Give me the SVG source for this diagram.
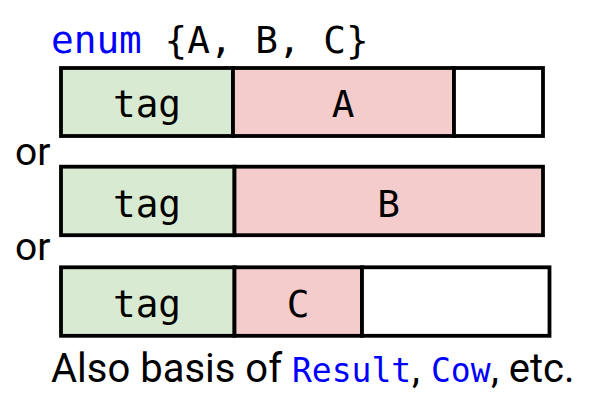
<svg xmlns="http://www.w3.org/2000/svg" width="610" height="408" viewBox="0 0 610 408">
  <style>
    .mono { font-family: "DejaVu Sans Mono", "Liberation Mono", monospace; font-size: 37.7px; fill: #000; }
    .sans { font-family: Roboto, "Liberation Sans", sans-serif; font-size: 39px; fill: #000; }
    .foot { font-size: 40px; }
    .code { font-family: "DejaVu Sans Mono", "Liberation Mono", monospace; font-size: 33px; }
    .kw { fill: #0000ff; }
    .cell { stroke: #000; stroke-width: 3.8; }
    .tag { fill: #d9ead3; }
    .pay { fill: #f4cccc; }
    .pad { fill: #ffffff; }
    .lbl { text-anchor: middle; }
  </style>
  <rect width="610" height="408" fill="#ffffff"/>

  <g id="header">
    <text class="mono" x="51" y="53"><tspan class="kw">enum</tspan> {A, B, C}</text>
  </g>

  <g id="variantA">
    <rect class="cell tag" x="61" y="68" width="172" height="68"/>
    <rect class="cell pay" x="233" y="68" width="221" height="68"/>
    <rect class="cell pad" x="454" y="68" width="89" height="68"/>
    <text class="mono lbl" x="147" y="116.5">tag</text>
    <text class="mono lbl" x="343" y="117">A</text>
  </g>

  <g id="or1">
    <text class="sans" x="15" y="165">or</text>
  </g>

  <g id="variantB">
    <rect class="cell tag" x="61" y="166.7" width="173.5" height="68.5"/>
    <rect class="cell pay" x="234.5" y="166.7" width="308.5" height="68.5"/>
    <text class="mono lbl" x="147" y="216.5">tag</text>
    <text class="mono lbl" x="388.5" y="216.5">B</text>
  </g>

  <g id="or2">
    <text class="sans" x="15" y="260">or</text>
  </g>

  <g id="variantC">
    <rect class="cell tag" x="61" y="267.3" width="173.5" height="68.5"/>
    <rect class="cell pay" x="234.5" y="267.3" width="127.5" height="68.5"/>
    <rect class="cell pad" x="362" y="267.3" width="187.5" height="68.5"/>
    <text class="mono lbl" x="147" y="317">tag</text>
    <text class="mono lbl" x="298" y="317">C</text>
  </g>

  <g id="connectors"></g>

  <g id="footer">
    <text class="sans foot" y="382"><tspan x="51">Also basis of</tspan><tspan x="292" class="kw code">Result</tspan><tspan x="412">,</tspan><tspan x="431" class="kw code">Cow</tspan><tspan x="491">, etc.</tspan></text>
  </g>
</svg>
